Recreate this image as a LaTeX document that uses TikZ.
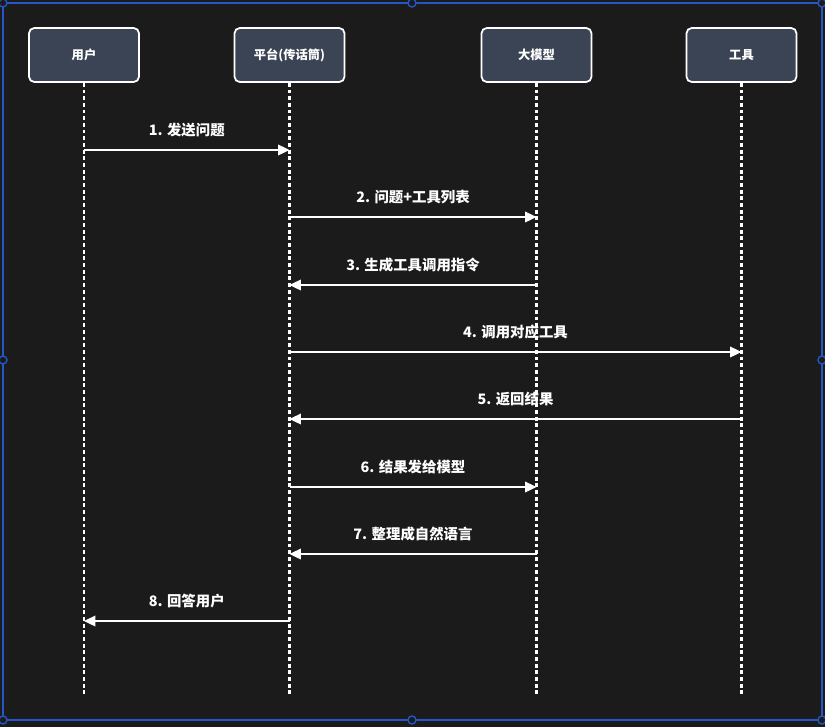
\documentclass[tikz,border=0pt]{standalone}
\usepackage{fontspec}
\setmainfont{Noto Sans CJK SC}
\usetikzlibrary{arrows.meta}

\definecolor{bgdark}{HTML}{1B1B1B}
\definecolor{boxfill}{HTML}{3B4454}
\definecolor{selblue}{HTML}{2456C8}

\tikzset{
  actor/.style={draw=white, line width=1pt, fill=boxfill, rounded corners=3pt,
    minimum width=2.2cm, minimum height=1.08cm, text=white,
    font=\bfseries\fontsize{7}{8}\selectfont},
  lifeline/.style={white, line width=1.3pt, dash pattern=on 2.2pt off 1.6pt},
  msg/.style={white, line width=1.1pt, -{Triangle[length=6.5pt,width=6pt]}},
  msglabel/.style={text=white, inner sep=0pt, above=7pt,
    font=\bfseries\fontsize{8.2}{9}\selectfont},
  handle/.style={draw=selblue, fill=bgdark, line width=0.8pt}
}

\begin{document}
\begin{tikzpicture}[x=0.02cm, y=-0.02cm]
% background and selection frame
\fill[bgdark] (0,0) rectangle (825,727);
\useasboundingbox (0,0) rectangle (825,727);
\draw[selblue, line width=0.9pt] (3,3) rectangle (822,720);

% actors
\node[actor] (usr) at (84,55) {用户};
\node[actor] (plat) at (289.5,55) {平台(传话筒)};
\node[actor] (llm) at (536.5,55) {大模型};
\node[actor] (tool) at (741.5,55) {工具};

% lifelines
\coordinate (usrEnd) at (84,695);
\coordinate (platEnd) at (289.5,695);
\coordinate (llmEnd) at (536.5,695);
\coordinate (toolEnd) at (741.5,695);
\draw[lifeline] (usr.south) -- (usrEnd);
\draw[lifeline] (plat.south) -- (platEnd);
\draw[lifeline] (llm.south) -- (llmEnd);
\draw[lifeline] (tool.south) -- (toolEnd);

% messages
\draw[msg] (usr |- 0,150) -- (plat |- 0,150) node[midway, msglabel] {1. 发送问题};
\draw[msg] (plat |- 0,217) -- (llm |- 0,217) node[midway, msglabel] {2. 问题+工具列表};
\draw[msg] (llm |- 0,285) -- (plat |- 0,285) node[midway, msglabel] {3. 生成工具调用指令};
\draw[msg] (plat |- 0,352) -- (tool |- 0,352) node[midway, msglabel] {4. 调用对应工具};
\draw[msg] (tool |- 0,419) -- (plat |- 0,419) node[midway, msglabel] {5. 返回结果};
\draw[msg] (plat |- 0,487) -- (llm |- 0,487) node[midway, msglabel] {6. 结果发给模型};
\draw[msg] (llm |- 0,554) -- (plat |- 0,554) node[midway, msglabel] {7. 整理成自然语言};
\draw[msg] (plat |- 0,621) -- (usr |- 0,621) node[midway, msglabel] {8. 回答用户};

% selection handles
\foreach \hx/\hy in {3/3, 412/3, 822/3, 3/360, 822/360, 3/720, 412/720, 822/720}
  \draw[handle] (\hx,\hy) circle (4);
\end{tikzpicture}
\end{document}
